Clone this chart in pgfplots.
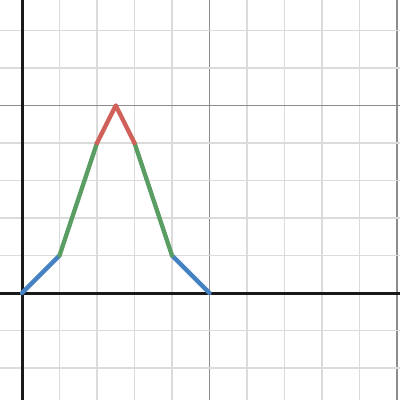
\documentclass[border=0pt]{standalone}
\usepackage{pgfplots}
\pgfplotsset{compat=1.18}
\definecolor{dblue}{HTML}{4682C3}
\definecolor{dgreen}{HTML}{5A9E63}
\definecolor{dred}{HTML}{D0605A}
\begin{document}
\begin{tikzpicture}
\begin{axis}[
    name=ax,
    scale only axis,
    width=400bp, height=400bp,
    xmin=-0.5867, xmax=10.08,
    ymin=-2.853, ymax=7.813,
    axis line style={draw=none},
    xtick={-5,0,5,10}, ytick={-5,0,5,10},
    minor xtick={-2,...,11}, minor ytick={-3,...,8},
    xticklabels={}, yticklabels={},
    major tick length=0pt, minor tick length=0pt,
    grid=both,
    major grid style={draw=black!45, line width=1.5bp},
    minor grid style={draw=black!14, line width=1.5bp},
    unbounded coords=jump,
    clip=true,
]
\addplot[black!90, line width=3bp] coordinates {(-1,0) (11,0)};
\addplot[black!90, line width=3bp] coordinates {(0,-3) (0,8)};
\addplot[dblue, line width=4.4bp, line cap=round, line join=round]
    coordinates {(0,0) (1,1) (nan,nan) (4,1) (5,0)};
\addplot[dgreen, line width=4.4bp, line cap=round, line join=round]
    coordinates {(1,1) (2,4) (nan,nan) (3,4) (4,1)};
\addplot[dred, line width=4.4bp, line cap=round, line join=round]
    coordinates {(2,4) (2.5,5) (3,4)};
\end{axis}
\pgfresetboundingbox
\useasboundingbox (ax.south west) rectangle (ax.north east);
\end{tikzpicture}
\end{document}
